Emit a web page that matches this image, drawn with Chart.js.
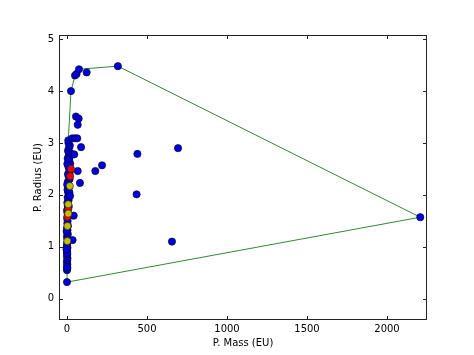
<!DOCTYPE html>
<html>
<head>
<meta charset="utf-8">
<script src="https://cdn.jsdelivr.net/npm/chart.js@4"></script>
<style>
  html, body { margin: 0; padding: 0; background: #fff; }
  #wrap { width: 474px; height: 355px; }
</style>
</head>
<body>
<div id="wrap"><canvas id="massRadius"></canvas></div>
<script>
// blue planets (mass, radius)
const blueMass = [0, 1, 0, 2, 0, 1, 3, 0, 2, 1, 0, 3, 1, 0, 4, 2, 0, 5, 1, 3, 0, 6, 2, 4, 1, 7, 3, 0, 8, 5,
    2, 10, 4, 12, 7, 3, 14, 9, 5, 16, 11, 6, 18, 13, 8, 20, 15, 4, 10, 22, 6, 12, 18, 9, 2, 1, 15, 19, 11, 14,
    0, 0, 2, -2, -3, 8, 25, 50, 60, 75, 123, 318, 56, 73, 67, 33, 50, 64, 88, 33, 45, 67, 177, 219, 81, 440,
    435, 42, 35, 656, 694, 2208, 0];
const blueRadius = [0.55, 0.58, 0.62, 0.66, 0.7, 0.74, 0.78, 0.82, 0.86, 0.9, 0.94, 0.98, 1.02, 1.06, 1.1, 1.15, 1.2, 1.24, 1.28, 1.32,
    1.36, 1.4, 1.45, 1.5, 1.55, 1.6, 1.65, 1.7, 1.75, 1.8, 1.85, 1.9, 1.95, 2.0, 2.05, 2.1, 2.15, 2.2, 2.25, 2.3,
    2.35, 2.4, 2.45, 2.5, 2.55, 2.6, 2.65, 2.7, 2.75, 2.8, 2.85, 2.9, 2.95, 3.0, 2.6, 2.2, 2.05, 1.98, 1.78, 2.7,
    0.88, 1.0, 0.6, 1.3, 0.95, 3.05, 4.0, 4.3, 4.33, 4.42, 4.36, 4.48, 3.51, 3.47, 3.35, 3.09, 3.09, 3.09, 2.92, 2.78,
    2.78, 2.46, 2.46, 2.57, 2.23, 2.79, 2.01, 1.6, 1.13, 1.1, 2.9, 1.57, 0.32];

const redMass = [25, 20, 8, 2];
const redRadius = [2.5, 2.36, 1.72, 1.58];

const yellowMass = [18, 8, 8, 3, 2];
const yellowRadius = [2.17, 1.82, 1.64, 1.4, 1.11];

// outline round all planets
const hullMass = [0, 8, 25, 50, 75, 318, 2208, 0];
const hullRadius = [0.32, 3.05, 4.0, 4.3, 4.42, 4.48, 1.57, 0.32];

const xTicks = [0, 500, 1000, 1500, 2000];
const yTicks = [0, 1, 2, 3, 4, 5];

function toPoints(xs, ys) {
    return xs.map((x, i) => ({ x: x, y: ys[i] }));
}

// matplotlib-like frame with inward ticks on all four sides
const framePlugin = {
    id: "frame",
    afterDraw(chart) {
        const { ctx, chartArea: a, scales } = chart;
        ctx.save();
        ctx.strokeStyle = "#222";
        ctx.lineWidth = 1;
        ctx.beginPath();
        scales.x.ticks.forEach(t => {
            const px = Math.round(scales.x.getPixelForValue(t.value)) + 0.5;
            ctx.moveTo(px, a.bottom); ctx.lineTo(px, a.bottom - 4);
            ctx.moveTo(px, a.top); ctx.lineTo(px, a.top + 4);
        });
        scales.y.ticks.forEach(t => {
            const py = Math.round(scales.y.getPixelForValue(t.value)) + 0.5;
            ctx.moveTo(a.left, py); ctx.lineTo(a.left + 4, py);
            ctx.moveTo(a.right, py); ctx.lineTo(a.right - 4, py);
        });
        ctx.stroke();
        ctx.strokeRect(a.left + 0.5, a.top + 0.5, a.right - a.left - 1, a.bottom - a.top - 1);
        ctx.restore();
    }
};

const font = { family: "DejaVu Sans", size: 10 };

new Chart(document.getElementById("massRadius"), {
    type: "scatter",
    data: {
        datasets: [
            {
                data: toPoints(yellowMass, yellowRadius), order: 0,
                backgroundColor: "#bfbf00", borderColor: "#222", borderWidth: 0.6, pointRadius: 3.6
            },
            {
                data: toPoints(redMass, redRadius), order: 1,
                backgroundColor: "#ee0000", borderColor: "#222", borderWidth: 0.6, pointRadius: 3.6
            },
            {
                type: "line", data: toPoints(hullMass, hullRadius), order: 3,
                borderColor: "#2e8b2e", borderWidth: 1, pointRadius: 0, fill: false, tension: 0
            },
            {
                data: toPoints(blueMass, blueRadius), order: 2,
                backgroundColor: "#0000d8", borderColor: "#000040", borderWidth: 0.7, pointRadius: 3.6
            }
        ]
    },
    options: {
        responsive: true,
        maintainAspectRatio: false,
        animation: false,
        layout: { padding: { top: 35, right: 47, left: 0, bottom: 0 } },
        plugins: { legend: { display: false }, tooltip: { enabled: false } },
        scales: {
            x: {
                type: "linear", min: -50, max: 2250,
                grid: { display: false, drawTicks: false },
                border: { display: false },
                afterBuildTicks: s => { s.ticks = xTicks.map(v => ({ value: v })); },
                afterFit: s => { s.height = 35; },
                ticks: { color: "#000", font: font, padding: 3, maxRotation: 0, callback: v => String(v) },
                title: { display: true, text: "P. Mass (EU)", color: "#000", font: font, padding: { top: 0, bottom: 6 } }
            },
            y: {
                type: "linear", min: -0.41, max: 5.08,
                grid: { display: false, drawTicks: false },
                border: { display: false },
                afterBuildTicks: s => { s.ticks = yTicks.map(v => ({ value: v })); },
                afterFit: s => { s.width = 59; },
                ticks: { color: "#000", font: font, padding: 5, callback: v => String(v) },
                title: { display: true, text: "P. Radius (EU)", color: "#000", font: font, padding: { top: 32, bottom: 0 } }
            }
        }
    },
    plugins: [framePlugin]
});
</script>
</body>
</html>
